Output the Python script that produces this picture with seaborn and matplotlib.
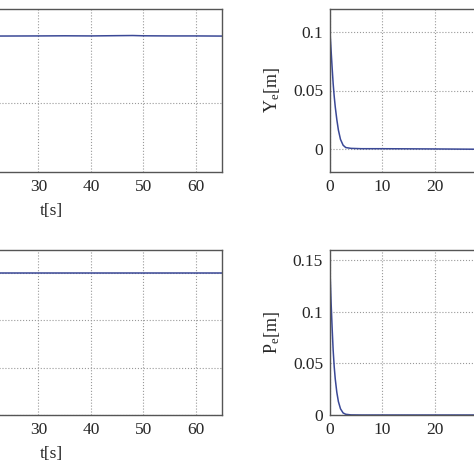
import matplotlib
matplotlib.use("Agg")
import matplotlib.pyplot as plt
import seaborn as sns
import pandas as pd

sns.set_theme(style="white")
plt.rcParams['font.family'] = ['Liberation Serif', 'DejaVu Serif']
plt.rcParams['mathtext.fontset'] = 'custom'
plt.rcParams['mathtext.rm'] = 'Liberation Serif'
plt.rcParams['mathtext.it'] = 'Liberation Serif'

# top-left series (constant level, slight wobble)
t_tl = [0, 10, 20, 30, 35, 40, 45, 48, 50, 55, 60, 65]
v_tl = [0.985, 0.985, 0.984, 0.985, 0.986, 0.985, 0.987, 0.988, 0.986, 0.985, 0.985, 0.984]
# top-right Y_e
t_ye = [0, 0.2, 0.4, 0.6, 0.8, 1.0, 1.3, 1.6, 2.0, 2.5, 3.0, 4, 6, 10, 20, 30, 40, 50, 60, 65]
v_ye = [0.1, 0.085, 0.07, 0.056, 0.045, 0.036, 0.025, 0.016, 0.008, 0.003, 0.001, 0.0003, 0.0, 0.0, -0.0002, -0.0005, -0.0005, -0.0005, -0.0005, -0.0005]
# bottom-left series (constant)
t_bl = [0, 10, 20, 30, 40, 50, 60, 65]
v_bl = [3, 3, 3, 3, 3, 3, 3, 3]
# bottom-right P_e
t_pe = [0, 0.2, 0.4, 0.6, 0.8, 1.0, 1.3, 1.6, 2.0, 2.5, 3.0, 4, 6, 10, 20, 30, 40, 50, 60, 65]
v_pe = [0.14, 0.11, 0.085, 0.063, 0.047, 0.035, 0.022, 0.013, 0.006, 0.002, 0.0007, 0.0001, 0, 0, 0, 0, 0, 0, 0, 0]

x_ticks = [0, 10, 20, 30, 40, 50, 60]
left_xlabels = ["", "", "", "30", "40", "50", "60"]
right_xlabels = ["0", "10", "20", "", "", "", ""]

W = 474
fig = plt.figure(figsize=(4.74, 4.74), dpi=100)
line_c = "#3a4896"
FS = 12.5

def mk(x0, y0, x1, y1):
    return fig.add_axes([x0 / W, (W - y1) / W, (x1 - x0) / W, (y1 - y0) / W])

ax_tl = mk(-119, 9, 222, 172)
ax_tr = mk(330, 9, 671, 172)
ax_bl = mk(-119, 250, 222, 415)
ax_br = mk(330, 250, 671, 415)

for ax, t, v in [(ax_tl, t_tl, v_tl), (ax_tr, t_ye, v_ye), (ax_bl, t_bl, v_bl), (ax_br, t_pe, v_pe)]:
    sns.lineplot(x=t, y=v, ax=ax, color=line_c, linewidth=1.1)
    ax.set_xlim(0, 65)
    ax.set_xticks(x_ticks)
    ax.grid(True, linestyle=":", color="#999999", linewidth=0.8)
    ax.tick_params(direction="in", labelsize=FS, length=3, color="#444444", pad=5)
    for s in ax.spines.values():
        s.set_color("#555555")
        s.set_linewidth(1.0)

for ax in (ax_tl, ax_bl):
    ax.set_xticklabels(left_xlabels)
    ax.set_xlabel("t[s]", fontsize=FS, labelpad=6)
for ax in (ax_tr, ax_br):
    ax.set_xticklabels(right_xlabels)

ax_tl.set_ylim(0, 1.18)
ax_tl.set_yticks([0.5])
ax_tl.set_yticklabels([])

ax_bl.set_ylim(0, 3.48)
ax_bl.set_yticks([0, 1, 2, 3])
ax_bl.set_yticklabels([])

ax_tr.set_ylim(-0.02, 0.12)
ax_tr.set_yticks([0, 0.05, 0.1])
ax_tr.set_yticklabels(["0", "0.05", "0.1"])
ax_tr.set_ylabel(r"Y$_\mathrm{e}$[m]", fontsize=FS + 0.5, labelpad=8)

ax_br.set_ylim(0, 0.16)
ax_br.set_yticks([0, 0.05, 0.1, 0.15])
ax_br.set_yticklabels(["0", "0.05", "0.1", "0.15"])
ax_br.set_ylabel(r"P$_\mathrm{e}$[m]", fontsize=FS + 0.5, labelpad=8)

fig.savefig("out.png", dpi=100)
